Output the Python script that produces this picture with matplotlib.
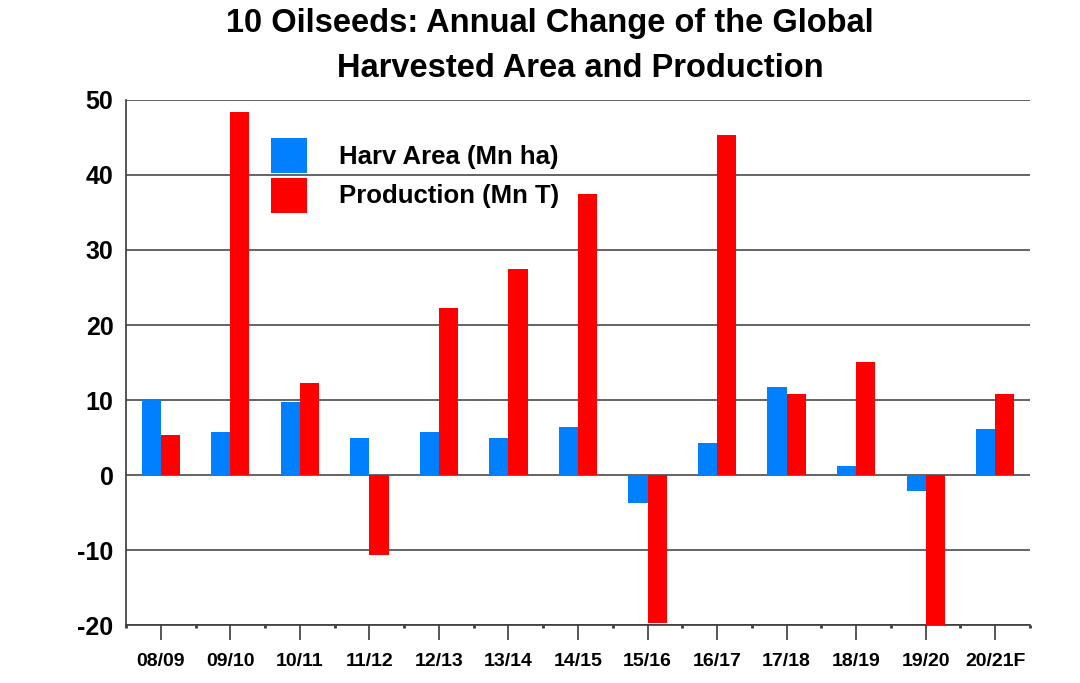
import matplotlib
matplotlib.use("Agg")
import matplotlib.pyplot as plt
from matplotlib.patches import Rectangle
import numpy as np

# Marketing years and annual changes
seasons = ["08/09", "09/10", "10/11", "11/12", "12/13", "13/14", "14/15",
           "15/16", "16/17", "17/18", "18/19", "19/20", "20/21F"]
harv_area = [10.2, 5.8, 9.7, 4.9, 5.8, 4.9, 6.4, -3.7, 4.3, 11.7, 1.2, -2.1, 6.2]
production = [5.4, 48.4, 12.3, -10.6, 22.2, 27.4, 37.5, -19.7, 45.3, 10.8, 15.1, -20.0, 10.8]
series_names = ["Harv Area (Mn ha)", "Production (Mn T)"]

BLUE = "#0080FF"
RED = "#FF0000"
GRID = "#3a3a3a"

plt.rcParams["font.family"] = ["Liberation Sans", "DejaVu Sans"]
plt.rcParams["font.weight"] = "bold"
plt.rcParams["axes.unicode_minus"] = False

fig = plt.figure(figsize=(10.8, 6.83), dpi=100)
ax = fig.add_axes([0.1167, 0.0849, 0.837, 0.7687])

x = np.arange(len(seasons))
w = 0.275
ax.bar(x - w / 2, harv_area, width=w, color=BLUE, zorder=3)
ax.bar(x + w / 2, production, width=w, color=RED, zorder=3)

ax.set_xlim(-0.5, len(seasons) - 0.5)
ax.set_ylim(-20, 50)
ax.set_yticks(np.arange(-20, 51, 10))
ax.yaxis.grid(True, color=GRID, linewidth=1.1, zorder=1)
ax.set_axisbelow(True)

ax.set_xticks(x)
ax.set_xticklabels(seasons, fontsize=14, fontweight="bold")
ax.set_xticks(np.arange(-0.5, len(seasons), 1.0), minor=True)
ax.tick_params(axis="x", which="major", length=11, width=1.2, color=GRID, pad=9.5)
ax.tick_params(axis="x", which="minor", length=2, width=2, color=GRID)
ax.tick_params(axis="y", length=0, pad=9, labelsize=18)
for lab in ax.get_yticklabels():
    lab.set_fontweight("bold")

for side in ["top", "right"]:
    ax.spines[side].set_visible(False)
for side in ["left", "bottom"]:
    ax.spines[side].set_color(GRID)
    ax.spines[side].set_linewidth(1.2)

# legend drawn by hand: squares plus labels
leg_y = [0.7467, 0.6881]
txt_y = [0.7599, 0.7028]
for col, ly, ty, name in zip([BLUE, RED], leg_y, txt_y, series_names):
    fig.patches.append(Rectangle((0.2509, ly), 0.0333, 0.0515, transform=fig.transFigure,
                                 facecolor=col, edgecolor="none"))
    fig.text(0.3139, ty, name, ha="left", va="baseline", fontsize=18.5, fontweight="bold")

fig.text(0.509, 0.9531, "10 Oilseeds: Annual Change of the Global", ha="center",
         va="baseline", fontsize=23.5, fontweight="bold")
fig.text(0.5375, 0.8873, "Harvested Area and Production", ha="center",
         va="baseline", fontsize=23.5, fontweight="bold")

fig.savefig("out.png", dpi=100)
